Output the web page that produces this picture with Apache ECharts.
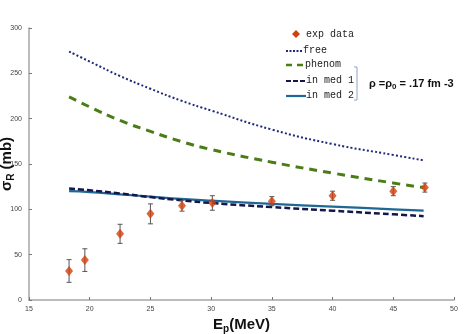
<!DOCTYPE html>
<html><head><meta charset="utf-8">
<script src="https://cdn.jsdelivr.net/npm/echarts@6/dist/echarts.min.js"></script>
<style>html,body{margin:0;padding:0;background:#fff}#c{width:474px;height:334px}</style>
</head><body><div id="c"></div>
<script>
// experimental data
var expE   = [18.3, 19.6, 22.5, 25.0, 27.6, 30.1, 35.0, 40.0, 45.0, 47.6];
var expSig = [32, 44, 73, 95, 104, 107, 109, 115, 120, 124];
var expErr = [12.5, 12.5, 10.5, 11, 6, 8, 5, 5, 5, 5];
// model curves
var modelE    = [18.3, 20, 22.5, 25, 27.5, 30, 35, 40, 45, 47.5];
var freeSig   = [274, 263, 247, 233, 220, 209, 188, 172, 160, 154];
var phenomSig = [224, 213, 198, 186, 175, 166, 152, 140, 129, 124];
var med1Sig   = [123, 121, 117.5, 113.5, 110, 107, 102.5, 98.5, 94.5, 92.5];
var med2Sig   = [120, 119, 116.5, 114, 111.5, 109.5, 106, 103, 100, 98.5];
var xTicks = [15, 20, 25, 30, 35, 40, 45, 50];
var yTicks = [0, 50, 100, 150, 200, 250, 300];

function pairs(xs, ys){ return xs.map(function(x,i){return [x, ys[i]];}); }
var errData = expE.map(function(x,i){return [x, expSig[i]-expErr[i], expSig[i]+expErr[i]];});

var chart = echarts.init(document.getElementById('c'));
var axisCol = '#a6a6a6';
var mono = '"Liberation Mono", "DejaVu Sans Mono", monospace';
var option = {
  animation: false,
  grid: {left: 29, right: 20, top: 28, bottom: 34, containLabel: false, outerBoundsMode: 'none'},
  xAxis: {
    type: 'value', min: xTicks[0], max: xTicks[xTicks.length-1], interval: 5,
    axisLine: {lineStyle: {color: axisCol, width: 1.5}},
    axisTick: {show: true, inside: true, length: 3, lineStyle: {color: '#777'}},
    splitLine: {show: false},
    axisLabel: {fontSize: 7, color: '#444', margin: 6, fontFamily: 'Liberation Sans'},
    name: '{a|E}{b|p}{a|(MeV)}', nameLocation: 'middle', nameGap: 16, nameMoveOverlap: false,
    nameTextStyle: {rich: {
      a: {fontSize: 15, fontWeight: 'bold', color: '#111', fontFamily: 'Liberation Sans', lineHeight: 18},
      b: {fontSize: 10, fontWeight: 'bold', color: '#111', fontFamily: 'Liberation Sans', lineHeight: 10, verticalAlign: 'bottom'}
    }}
  },
  yAxis: {
    type: 'value', min: yTicks[0], max: yTicks[yTicks.length-1], interval: 50,
    axisLine: {show: true, lineStyle: {color: axisCol, width: 1.5}},
    axisTick: {show: true, inside: true, length: 3, lineStyle: {color: '#777'}},
    splitLine: {show: false},
    axisLabel: {fontSize: 7, color: '#444', margin: 7, fontFamily: 'Liberation Sans'},
    name: '{a|σ}{b|R}{a| (mb)}', nameLocation: 'middle', nameGap: 13, nameRotate: 90, nameMoveOverlap: false,
    nameTextStyle: {rich: {
      a: {fontSize: 15, fontWeight: 'bold', color: '#111', fontFamily: 'Liberation Sans', lineHeight: 18},
      b: {fontSize: 10, fontWeight: 'bold', color: '#111', fontFamily: 'Liberation Sans', lineHeight: 10, verticalAlign: 'bottom'}
    }}
  },
  series: [
    {name: 'free', type: 'line', data: pairs(modelE, freeSig), smooth: true, symbol: 'none',
     lineStyle: {color: '#1d2a7a', width: 2, type: [2, 2.2]}},
    {name: 'phenom', type: 'line', data: pairs(modelE, phenomSig), smooth: true, symbol: 'none',
     lineStyle: {color: '#4b7d16', width: 3, type: [8, 6]}},
    {name: 'in med 2', type: 'line', data: pairs(modelE, med2Sig), smooth: true, symbol: 'none',
     lineStyle: {color: '#1f6894', width: 2.2}},
    {name: 'in med 1', type: 'line', data: pairs(modelE, med1Sig), smooth: true, symbol: 'none',
     lineStyle: {color: '#16164c', width: 2.5, type: [6, 3]}},
    {name: 'err', type: 'custom', data: errData, z: 5,
     renderItem: function(params, api){
       var x = api.value(0);
       var lo = api.coord([x, api.value(1)]);
       var hi = api.coord([x, api.value(2)]);
       var st = {stroke: '#555', lineWidth: 1};
       return {type: 'group', children: [
         {type: 'line', shape: {x1: lo[0], y1: lo[1], x2: hi[0], y2: hi[1]}, style: st},
         {type: 'line', shape: {x1: lo[0]-2.5, y1: lo[1], x2: lo[0]+2.5, y2: lo[1]}, style: st},
         {type: 'line', shape: {x1: hi[0]-2.5, y1: hi[1], x2: hi[0]+2.5, y2: hi[1]}, style: st}
       ]};
     }},
    {name: 'exp data', type: 'scatter', data: pairs(expE, expSig), symbol: 'diamond', symbolSize: [8, 10], z: 6,
     itemStyle: {color: '#d2400e'}}
  ],
  graphic: [
    {type: 'polygon', shape: {points: [[296, 30], [300, 34], [296, 38], [292, 34]]}, style: {fill: '#d2400e'}},
    {type: 'text', x: 306, y: 29, style: {text: 'exp data', font: '10px ' + mono, fill: '#222'}},
    {type: 'line', shape: {x1: 286, y1: 51, x2: 303, y2: 51}, style: {stroke: '#1d2a7a', lineWidth: 2, lineDash: [2, 1.5]}},
    {type: 'text', x: 303, y: 45, style: {text: 'free', font: '10px ' + mono, fill: '#222'}},
    {type: 'line', shape: {x1: 286, y1: 65, x2: 304, y2: 65}, style: {stroke: '#4b7d16', lineWidth: 2.5, lineDash: [6, 5]}},
    {type: 'text', x: 305, y: 59, style: {text: 'phenom', font: '10px ' + mono, fill: '#222'}},
    {type: 'line', shape: {x1: 286, y1: 81, x2: 306, y2: 81}, style: {stroke: '#16164c', lineWidth: 2.2, lineDash: [5, 2]}},
    {type: 'text', x: 306, y: 75, style: {text: 'in med 1', font: '10px ' + mono, fill: '#222'}},
    {type: 'line', shape: {x1: 286, y1: 96, x2: 306, y2: 96}, style: {stroke: '#1f6894', lineWidth: 2.2}},
    {type: 'text', x: 306, y: 90, style: {text: 'in med 2', font: '10px ' + mono, fill: '#222'}},
    {type: 'polyline', shape: {points: [[354, 67], [357, 67], [357, 100], [354, 100]]}, style: {stroke: '#8fa3c6', lineWidth: 1, fill: null}},
    {type: 'text', x: 369, y: 77, style: {
      text: '{t|ρ =ρ}{s|0}{t| = .17 fm -3}',
      rich: {
        t: {font: 'bold 11px "Liberation Sans", Arial', fill: '#111', lineHeight: 14},
        s: {font: 'bold 8px "Liberation Sans", Arial', fill: '#111', lineHeight: 8, verticalAlign: 'bottom'}
      }}}
  ]
};
chart.setOption(option);
</script>
</body></html>
